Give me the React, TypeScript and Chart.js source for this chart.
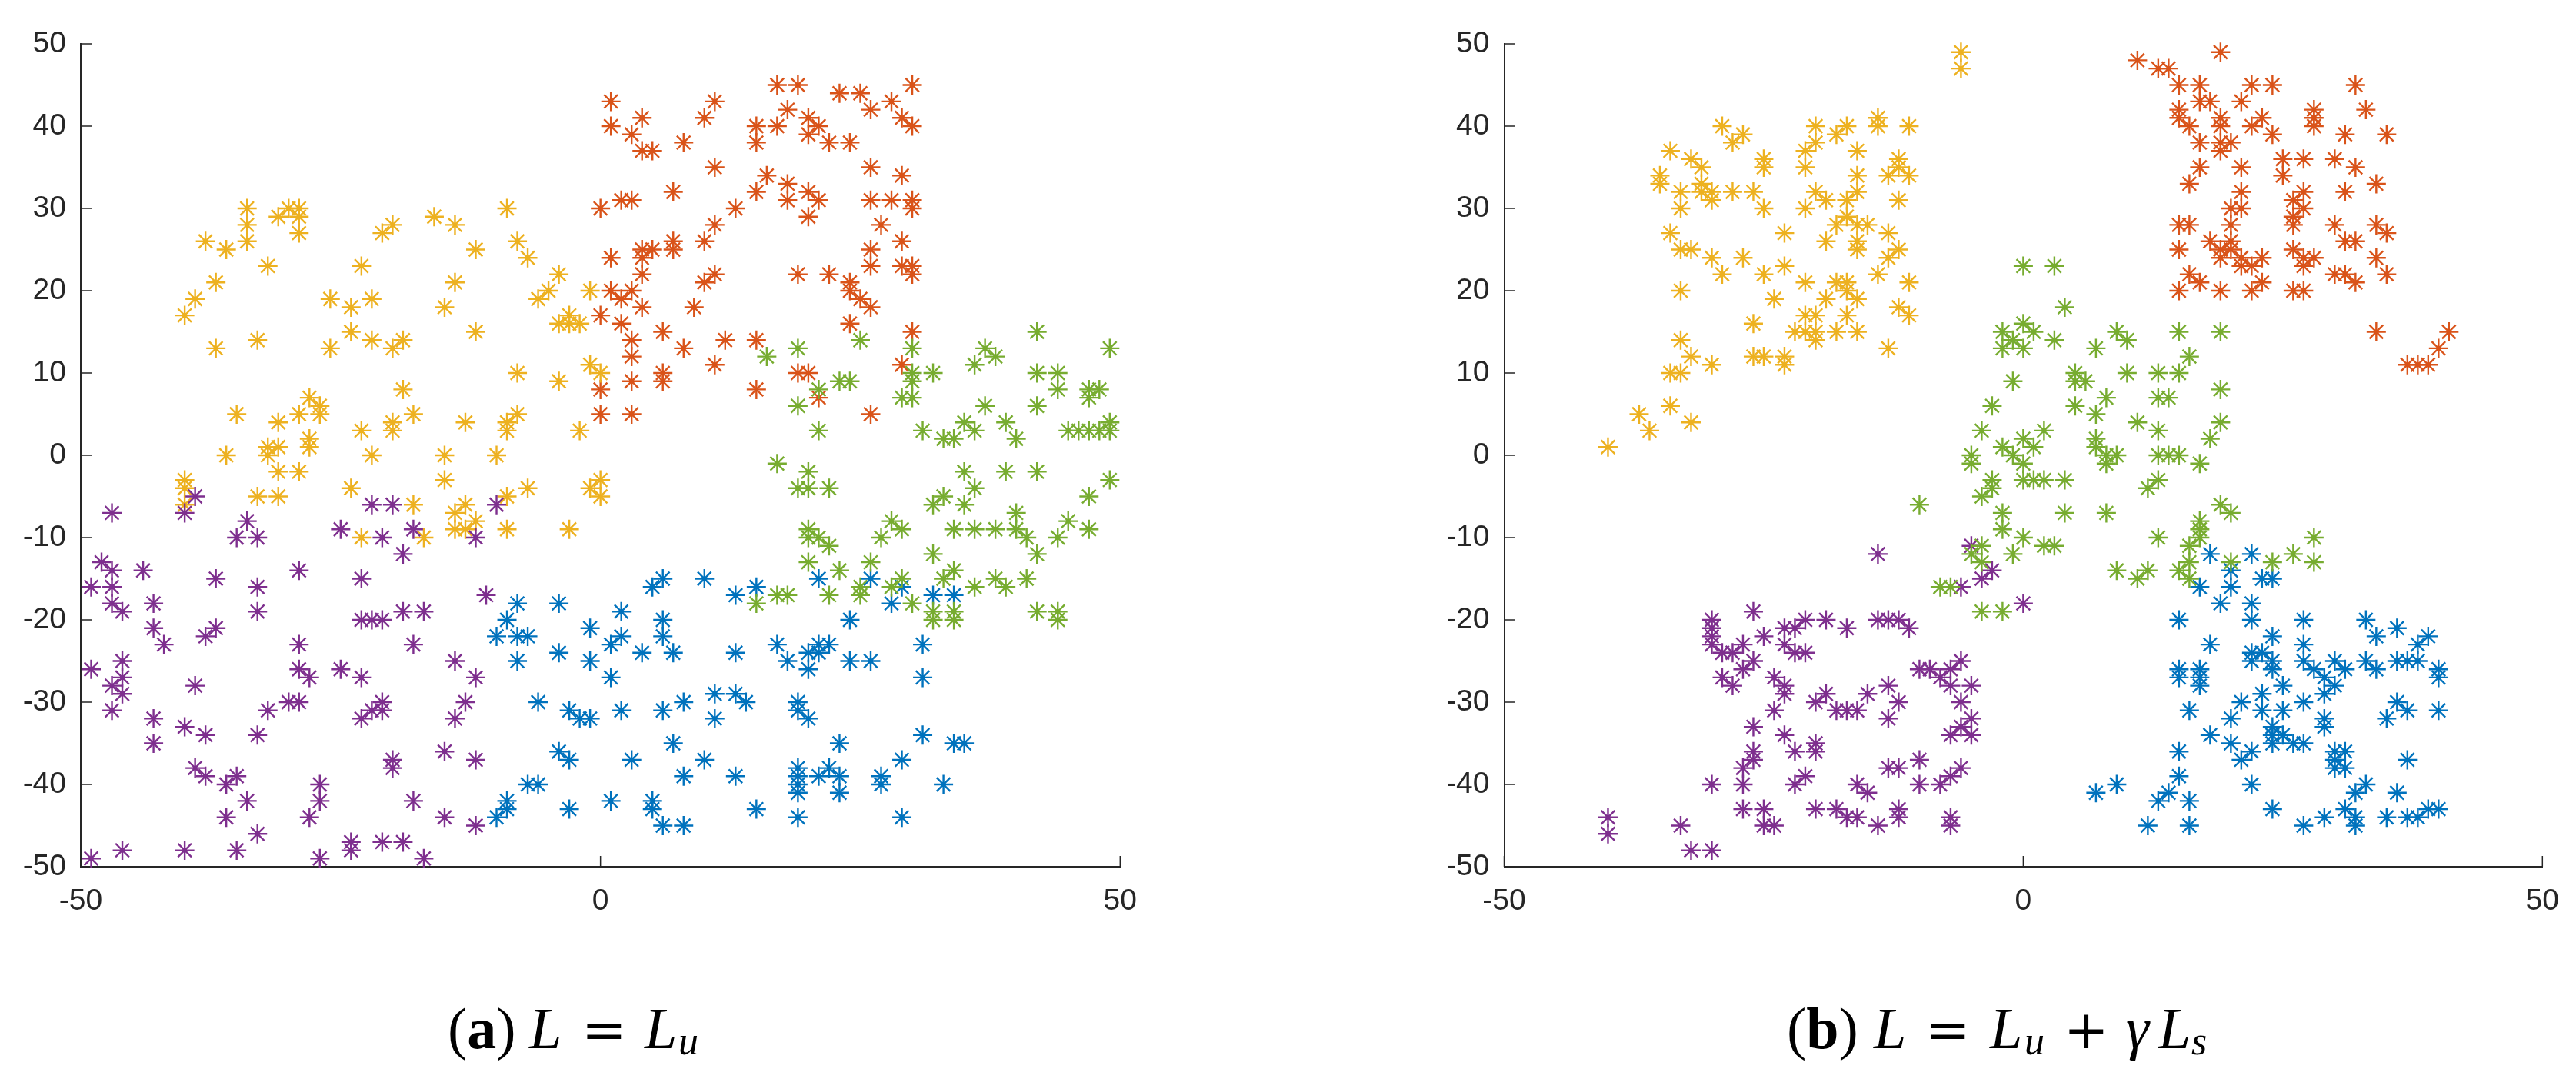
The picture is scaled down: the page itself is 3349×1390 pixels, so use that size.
import React, { useEffect, useRef } from "react";
import { Chart, registerables } from "chart.js";

Chart.register(...registerables);

// ---------- data: (a) L = L_u ----------
const aBlue: number[][] = [
  [6,-15],[5,-16],[10,-15],[13,-17],[15,-16],[21,-15],[26,-15],[29,-16],[28,-18],[32,-17],[34,-17],[24,-20],
  [2,-19],[-1,-21],[6,-20],[6,-22],[2,-22],[1,-23],[4,-24],[7,-24],[-1,-25],[1,-27],[13,-24],[17,-23],[18,-25],
  [20,-24],[20,-26],[21,-23],[22,-23],[21,-24],[24,-25],[26,-25],[31,-23],[31,-27],[-1,-32],[2,-31],[6,-31],
  [8,-30],[11,-29],[13,-29],[14,-30],[11,-32],[19,-30],[19,-31],[20,-32],[7,-35],[3,-37],[10,-37],[8,-39],
  [13,-39],[19,-38],[19,-39],[19,-40],[19,-41],[21,-39],[22,-38],[23,-39],[23,-41],[23,-35],[27,-39],[27,-40],
  [29,-37],[31,-34],[34,-35],[35,-35],[33,-40],[1,-42],[5,-42],[5,-43],[6,-45],[8,-45],[15,-43],[19,-44],[29,-44],
  [-8,-18],[-4,-18],[-9,-20],[-10,-22],[-8,-22],[-7,-22],[-4,-24],[-8,-25],[-6,-30],[-3,-31],[-2,-32],[-4,-36],
  [-3,-37],[-7,-40],[-6,-40],[-9,-42],[-9,-43],[-10,-44],[-3,-43],
];
const aRed: number[][] = [
  [0,30],[1,43],[1,40],[1,24],[1,20],[0,17],[0,8],[0,5],[4,41],[3,39],[4,37],[5,37],[8,38],[11,43],[10,41],
  [11,35],[17,45],[19,45],[18,42],[15,40],[17,40],[15,38],[20,41],[21,40],[20,39],[22,38],[24,38],[23,44],
  [25,44],[26,42],[28,43],[30,45],[29,41],[30,40],[26,35],[29,34],[16,34],[18,33],[15,32],[20,32],[21,31],
  [18,31],[7,32],[2,31],[3,31],[13,30],[20,29],[26,31],[28,31],[30,31],[30,30],[27,28],[11,28],[10,26],[7,26],
  [7,25],[4,25],[5,25],[4,24],[4,22],[11,22],[10,21],[19,22],[22,22],[24,21],[24,20],[25,19],[26,18],[26,25],
  [26,23],[29,26],[29,23],[30,23],[30,22],[3,20],[2,19],[4,18],[2,16],[9,18],[6,15],[3,14],[3,12],[8,13],
  [12,14],[15,14],[11,11],[6,10],[6,9],[3,9],[3,5],[15,8],[19,10],[20,10],[21,7],[26,5],[24,16],[30,15],[29,11],
];
const aYellow: number[][] = [
  [-40,17],[-39,19],[-37,21],[-38,26],[-36,25],[-34,26],[-34,28],[-34,30],[-32,23],[-31,29],[-30,30],[-29,30],
  [-29,29],[-29,27],[-37,13],[-33,14],[-26,19],[-24,18],[-22,19],[-23,23],[-21,27],[-20,28],[-16,29],[-14,28],
  [-9,30],[-8,26],[-7,24],[-12,25],[-14,21],[-15,18],[-12,15],[-24,15],[-22,14],[-20,13],[-19,14],[-26,13],
  [-4,22],[-5,20],[-6,19],[-4,16],[-3,17],[-3,16],[-2,16],[-1,20],[-1,11],[0,10],[-8,10],[-4,9],[-19,8],[-28,7],
  [-27,6],[-27,5],[-35,5],[-31,4],[-29,5],[-23,3],[-20,4],[-20,3],[-18,5],[-13,4],[-9,4],[-9,3],[-8,5],[-2,3],
  [-28,2],[-28,1],[-32,1],[-31,1],[-32,0],[-36,0],[-22,0],[-15,0],[-10,0],[-31,-2],[-29,-2],[-40,-3],[-40,-4],
  [-40,-6],[-33,-5],[-31,-5],[-24,-4],[-15,-3],[-18,-6],[-17,-10],[-23,-10],[-14,-7],[-13,-6],[-14,-9],[-13,-9],
  [-12,-8],[-9,-5],[-9,-9],[-7,-4],[-3,-9],[-1,-4],[0,-3],[0,-5],
];
const aPurple: number[][] = [
  [-39,-5],[-47,-7],[-40,-7],[-34,-8],[-35,-10],[-33,-10],[-25,-9],[-22,-6],[-20,-6],[-21,-10],[-19,-12],[-18,-9],
  [-12,-10],[-10,-6],[-48,-13],[-47,-14],[-44,-14],[-49,-16],[-47,-16],[-37,-15],[-33,-16],[-29,-14],[-23,-15],
  [-47,-18],[-46,-19],[-43,-18],[-33,-19],[-11,-17],[-43,-21],[-42,-23],[-38,-22],[-37,-21],[-29,-23],[-23,-20],
  [-22,-20],[-21,-20],[-19,-19],[-17,-19],[-18,-23],[-49,-26],[-46,-25],[-46,-27],[-47,-28],[-46,-29],[-47,-31],
  [-39,-28],[-29,-26],[-28,-27],[-25,-26],[-23,-27],[-14,-25],[-12,-27],[-43,-32],[-40,-33],[-38,-34],[-43,-35],
  [-32,-31],[-30,-30],[-29,-30],[-33,-34],[-23,-32],[-22,-31],[-21,-31],[-21,-30],[-13,-30],[-14,-32],[-15,-36],
  [-12,-37],[-20,-37],[-20,-38],[-39,-38],[-38,-39],[-36,-40],[-35,-39],[-34,-42],[-36,-44],[-33,-46],[-27,-40],
  [-27,-42],[-28,-44],[-18,-42],[-15,-44],[-12,-45],[-24,-47],[-24,-48],[-21,-47],[-19,-47],[-17,-49],[-49,-49],
  [-46,-48],[-40,-48],[-35,-48],[-27,-49],
];
const aGreen: number[][] = [
  [25,14],[30,13],[16,12],[19,13],[30,10],[30,9],[32,10],[29,7],[30,7],[23,9],[24,9],[21,8],[19,6],[21,3],
  [37,13],[38,12],[36,11],[42,15],[49,13],[42,10],[44,10],[44,8],[47,8],[48,8],[47,7],[37,6],[42,6],[31,3],
  [33,2],[34,2],[35,4],[36,3],[39,4],[40,2],[45,3],[46,3],[47,3],[48,3],[49,3],[49,4],[17,-1],[20,-2],[19,-4],
  [20,-4],[22,-4],[35,-2],[39,-2],[42,-2],[49,-3],[36,-4],[33,-5],[32,-6],[35,-6],[40,-7],[47,-5],[45,-8],
  [47,-9],[28,-8],[29,-9],[27,-10],[34,-9],[36,-9],[38,-9],[40,-9],[41,-10],[44,-10],[42,-12],[32,-12],[20,-9],
  [20,-10],[21,-10],[22,-11],[20,-13],[23,-14],[26,-13],[29,-15],[25,-16],[25,-17],[28,-16],[30,-18],[34,-14],
  [33,-15],[36,-16],[38,-15],[39,-16],[41,-15],[32,-19],[32,-20],[34,-19],[34,-20],[42,-19],[44,-19],[44,-20],
  [17,-17],[18,-17],[15,-18],[22,-17],
];

// ---------- data: (b) L = L_u + gamma L_s ----------
const bBlue: number[][] = [
  [18,-12],[22,-12],[20,-14],[20,-16],[23,-15],[24,-15],[17,-16],[19,-18],[22,-18],[15,-20],[22,-20],[27,-20],
  [33,-20],[36,-21],[24,-22],[34,-22],[39,-22],[38,-23],[18,-23],[27,-23],[22,-24],[23,-24],[22,-25],[24,-25],
  [24,-26],[27,-25],[28,-26],[29,-27],[30,-28],[29,-29],[30,-25],[31,-26],[33,-25],[34,-26],[36,-25],[37,-25],
  [38,-25],[40,-26],[40,-27],[15,-26],[15,-27],[17,-26],[17,-27],[17,-28],[25,-28],[23,-29],[21,-30],[27,-30],
  [16,-31],[23,-31],[25,-31],[20,-32],[29,-32],[29,-33],[36,-30],[37,-31],[35,-32],[40,-31],[18,-34],[24,-33],
  [24,-34],[25,-34],[24,-35],[26,-35],[27,-35],[20,-35],[22,-36],[21,-37],[15,-36],[30,-36],[31,-36],[30,-37],
  [30,-38],[31,-38],[37,-37],[15,-39],[22,-40],[33,-40],[32,-41],[36,-41],[7,-41],[9,-40],[14,-41],[13,-42],
  [16,-42],[24,-43],[31,-43],[32,-44],[32,-45],[29,-44],[35,-44],[37,-44],[38,-44],[39,-43],[40,-43],[12,-45],
  [16,-45],[27,-45],
];
const bRed: number[][] = [
  [11,48],[13,47],[14,47],[19,49],[15,45],[17,45],[22,45],[24,45],[32,45],[17,43],[18,43],[21,43],[33,42],[15,42],
  [15,41],[16,40],[19,41],[19,40],[23,41],[22,40],[24,39],[28,42],[28,41],[28,40],[31,39],[35,39],[17,38],[19,38],
  [20,38],[19,37],[17,35],[21,35],[25,36],[25,34],[27,36],[30,36],[32,35],[34,33],[16,33],[21,32],[27,32],[26,31],
  [27,30],[31,32],[20,30],[21,30],[20,28],[15,28],[16,28],[26,29],[26,28],[30,28],[34,28],[35,27],[31,26],[32,26],
  [18,26],[20,26],[15,25],[19,25],[20,25],[19,24],[21,24],[22,23],[21,23],[23,24],[26,25],[27,24],[28,24],[27,23],
  [34,24],[35,22],[16,22],[17,21],[30,22],[31,22],[32,21],[15,20],[19,20],[22,20],[23,21],[26,20],[27,20],[34,15],
  [41,15],[40,13],[37,11],[38,11],[39,11],
];
const bYellow: number[][] = [
  [-40,1],[-37,5],[-36,3],[-34,6],[-32,4],[-34,10],[-33,10],[-33,14],[-32,12],[-30,11],[-33,20],[-34,27],[-33,25],
  [-32,25],[-30,24],[-29,22],[-27,24],[-25,22],[-23,27],[-23,23],[-24,19],[-26,16],[-26,12],[-25,12],[-23,12],
  [-23,11],[-22,15],[-21,17],[-21,15],[-20,17],[-20,15],[-20,14],[-19,19],[-18,15],[-17,17],[-16,15],[-16,19],
  [-21,21],[-18,21],[-17,21],[-17,20],[-19,26],[-18,28],[-17,29],[-16,28],[-15,28],[-16,26],[-16,25],[-14,22],
  [-13,27],[-13,24],[-12,25],[-12,18],[-11,17],[-11,21],[-13,13],[-35,34],[-35,33],[-34,37],[-33,32],[-33,30],
  [-32,36],[-31,35],[-31,33],[-31,32],[-30,32],[-30,31],[-29,40],[-28,38],[-27,39],[-28,32],[-26,32],[-25,36],
  [-25,35],[-25,30],[-21,37],[-21,35],[-21,30],[-20,40],[-20,38],[-20,32],[-19,31],[-18,39],[-17,40],[-17,31],
  [-16,32],[-16,37],[-16,34],[-14,41],[-14,40],[-11,40],[-13,34],[-12,36],[-12,35],[-11,34],[-12,31],[-6,49],[-6,47],
];
const bPurple: number[][] = [
  [-5,-11],[-14,-12],[-3,-14],[-4,-15],[-6,-16],[0,-18],[-30,-20],[-30,-21],[-30,-22],[-30,-23],[-26,-19],[-25,-22],
  [-29,-24],[-28,-24],[-27,-23],[-26,-25],[-27,-26],[-29,-27],[-28,-28],[-24,-27],[-23,-28],[-23,-29],[-23,-21],
  [-22,-21],[-21,-20],[-23,-23],[-22,-24],[-21,-24],[-19,-20],[-17,-21],[-14,-20],[-13,-20],[-12,-20],[-11,-21],
  [-24,-31],[-20,-30],[-19,-29],[-18,-31],[-17,-31],[-16,-31],[-15,-29],[-13,-28],[-12,-30],[-13,-32],[-10,-26],
  [-9,-26],[-8,-27],[-7,-26],[-6,-25],[-7,-28],[-5,-28],[-6,-30],[-5,-32],[-6,-33],[-7,-34],[-5,-34],[-26,-33],
  [-23,-34],[-22,-36],[-20,-35],[-20,-36],[-26,-36],[-26,-37],[-27,-38],[-30,-40],[-27,-40],[-22,-40],[-21,-39],
  [-16,-40],[-15,-41],[-13,-38],[-12,-38],[-10,-37],[-10,-40],[-8,-40],[-7,-39],[-6,-38],[-27,-43],[-25,-43],
  [-25,-45],[-24,-45],[-20,-43],[-18,-43],[-17,-44],[-16,-44],[-14,-45],[-12,-43],[-12,-44],[-7,-44],[-7,-45],
  [-40,-44],[-40,-46],[-33,-45],[-32,-48],[-30,-48],
];
const bGreen: number[][] = [
  [-2,15],[-2,13],[-1,14],[-1,9],[-3,6],[-4,3],[-5,0],[-2,1],[-1,0],[0,23],[3,23],[4,18],[0,16],[1,15],[0,13],
  [3,14],[9,15],[10,14],[7,13],[15,15],[19,15],[16,12],[5,10],[5,9],[6,9],[10,10],[13,10],[15,10],[19,8],[8,7],
  [5,6],[13,7],[14,7],[7,5],[11,4],[19,4],[13,3],[2,3],[0,2],[1,1],[18,2],[7,2],[7,1],[8,0],[9,0],[13,0],[14,0],
  [15,0],[0,-1],[8,-1],[17,-1],[-3,-3],[-3,-4],[0,-3],[1,-3],[2,-3],[4,-3],[13,-3],[12,-4],[-2,-7],[-2,-9],[4,-7],
  [8,-7],[0,-10],[2,-11],[3,-11],[-1,-12],[13,-10],[19,-6],[20,-7],[17,-8],[17,-9],[17,-10],[16,-11],[16,-13],
  [15,-14],[16,-15],[20,-13],[24,-13],[26,-12],[28,-10],[28,-13],[9,-14],[11,-15],[12,-14],[-2,-19],[-4,-19],
  [-5,-1],[-4,-5],[-10,-6],[-4,-11],[-5,-12],[-4,-13],[-8,-16],[-7,-16],
];

const xTickStep = 50;
const yTickStep = 10;
const axisMin = -50;
const axisMax = 50;

const BLUE = "#0072BD";
const RED = "#D95319";
const YELLOW = "#EDB120";
const PURPLE = "#7E2F8E";
const GREEN = "#77AC30";
const AXIS = "#262626";
const TICK_LEN = 14;

const inwardTicks = {
  id: "inwardTicks",
  beforeDatasetsDraw(chart: any) {
    const { ctx, chartArea, scales } = chart;
    const xs = scales.x;
    const ys = scales.y;
    ctx.save();
    ctx.strokeStyle = AXIS;
    ctx.lineWidth = 1.5;
    ctx.beginPath();
    for (const t of ys.ticks) {
      const py = ys.getPixelForValue(t.value);
      ctx.moveTo(chartArea.left, py);
      ctx.lineTo(chartArea.left + TICK_LEN, py);
    }
    for (const t of xs.ticks) {
      const px = xs.getPixelForValue(t.value);
      ctx.moveTo(px, chartArea.bottom);
      ctx.lineTo(px, chartArea.bottom - TICK_LEN);
    }
    ctx.stroke();
    ctx.restore();
  },
};

function ds(data: number[][], color: string, order: number) {
  return {
    data: data.map(([x, y]) => ({ x, y })),
    borderColor: color,
    backgroundColor: color,
    pointStyle: "star" as const,
    pointRadius: 12.5,
    pointHoverRadius: 12.5,
    pointBorderWidth: 2.4,
    showLine: false,
    clip: false as const,
    order,
  };
}

function ScatterPanel(props: {
  left: number;
  width: number;
  height: number;
  padLeft: number;
  padRight: number;
  sets: number[][][];
}) {
  const ref = useRef<HTMLCanvasElement | null>(null);
  useEffect(() => {
    if (!ref.current) return;
    const colors = [BLUE, RED, YELLOW, PURPLE, GREEN];
    const chart = new Chart(ref.current, {
      type: "scatter",
      data: {
        datasets: props.sets.map((s, i) => ds(s, colors[i], 4 - i)),
      },
      options: {
        animation: false,
        responsive: false,
        devicePixelRatio: 1,
        events: [],
        layout: { padding: { left: props.padLeft, right: props.padRight, top: 57, bottom: 0 } },
        plugins: { legend: { display: false }, tooltip: { enabled: false } },
        scales: {
          x: {
            type: "linear",
            min: axisMin,
            max: axisMax,
            afterFit: (a: any) => { a.height = 103; },
            grid: { display: false, drawTicks: false, tickLength: 0 },
            border: { display: true, color: AXIS, width: 2 },
            ticks: {
              stepSize: xTickStep,
              padding: 22,
              color: AXIS,
              maxRotation: 0,
              font: { family: "'Liberation Sans', Arial, sans-serif", size: 39 },
            },
          },
          y: {
            type: "linear",
            min: axisMin,
            max: axisMax,
            afterFit: (a: any) => { a.width = 100; },
            grid: { display: false, drawTicks: false, tickLength: 0 },
            border: { display: true, color: AXIS, width: 2 },
            ticks: {
              stepSize: yTickStep,
              padding: 19,
              color: AXIS,
              font: { family: "'Liberation Sans', Arial, sans-serif", size: 39 },
            },
          },
        },
      },
      plugins: [inwardTicks],
    });
    return () => chart.destroy();
  }, []);
  return (
    <canvas
      ref={ref}
      width={props.width}
      height={props.height}
      style={{ position: "absolute", left: props.left, top: 0, width: props.width, height: props.height }}
    />
  );
}

const SERIF = "'Liberation Serif', 'Times New Roman', serif";
const CAP_TOP = 1299;
const CAP_SIZE = 76;

// one caption glyph group placed at a given x (page pixels), sharing a common baseline
function G(props: { x: number; children: React.ReactNode; italic?: boolean; sub?: boolean; font?: string; size?: number }) {
  const size = props.size ?? (props.sub ? 52 : CAP_SIZE);
  const shift = props.sub ? 9 : 0;
  const top = CAP_TOP + CAP_SIZE * 0.8375 - size * 0.8375 + shift;
  return (
    <span
      style={{
        position: "absolute",
        left: props.x,
        top,
        fontFamily: props.font ?? SERIF,
        fontSize: size,
        lineHeight: `${size}px`,
        fontStyle: props.italic ? "italic" : "normal",
        color: "#000",
        whiteSpace: "nowrap",
      }}
    >
      {props.children}
    </span>
  );
}

export default function App() {
  return (
    <div style={{ position: "absolute", left: 0, top: 0, width: 3349, height: 1390, background: "#fff", overflow: "hidden" }}>
      <ScatterPanel left={0} width={1500} height={1230} padLeft={5} padRight={39} sets={[aBlue, aRed, aYellow, aPurple, aGreen]} />
      <ScatterPanel left={1849} width={1500} height={1230} padLeft={6.5} padRight={39} sets={[bBlue, bRed, bYellow, bPurple, bGreen]} />
      {/* (a) L = L_u */}
      <G x={582}>(<b>a</b>)</G>
      <G x={688} italic>L</G>
      <G x={756} font="'DejaVu Serif', serif" size={70}>=</G>
      <G x={838} italic>L</G>
      <G x={882} italic sub>u</G>
      {/* (b) L = L_u + γ L_s */}
      <G x={2323}>(<b>b</b>)</G>
      <G x={2436} italic>L</G>
      <G x={2503} font="'DejaVu Serif', serif" size={70}>=</G>
      <G x={2587} italic>L</G>
      <G x={2632} italic sub>u</G>
      <G x={2683} font="'DejaVu Serif', serif" size={70}>+</G>
      <G x={2764} italic>γ</G>
      <G x={2806} italic>L</G>
      <G x={2849} italic sub>s</G>
    </div>
  );
}
